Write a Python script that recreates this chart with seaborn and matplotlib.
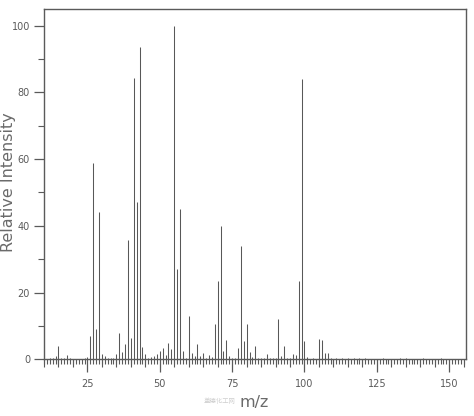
import numpy as np
import pandas as pd
import seaborn as sns
import matplotlib.pyplot as plt
from matplotlib.ticker import MultipleLocator

# m/z values and relative intensities
mz = [12, 13, 14, 15, 16, 17, 18, 19, 20, 22, 24, 25,
      26, 27, 28, 29, 30, 31, 32, 33, 34, 35,
      36, 37, 38, 39, 40, 41, 42, 43, 44, 45, 46, 47, 48, 49,
      50, 51, 52, 53, 54, 55, 56, 57, 58, 59, 60, 61, 62, 63, 64, 65, 66, 67, 68,
      69, 70, 71, 72, 73, 74, 75, 76, 77, 78, 79, 80, 81, 82, 83, 84, 85, 86, 87,
      88, 89, 90, 91, 92, 93, 94, 95, 96, 97, 98, 99, 100, 101, 103, 105, 106, 107, 108,
      109, 111, 113, 115, 117, 119, 121, 127, 133, 135, 141, 147]
intensity = [0.4, 0.3, 1.1, 3.9, 0.4, 0.5, 1.4, 0.3, 0.2, 0.2, 0.3, 0.6,
             7.0, 58.7, 9.0, 44.2, 1.5, 0.9, 0.5, 0.5, 0.5, 1.5,
             7.9, 2.2, 4.6, 35.8, 6.5, 84.2, 47.0, 93.5, 3.6, 1.5, 0.5, 0.7, 1.1, 1.6,
             2.4, 3.3, 1.2, 4.9, 3.0, 100.0, 27.0, 45.0, 2.4, 0.5, 13.0, 1.8, 0.9, 4.6, 1.0, 1.8, 0.5, 1.2, 0.7,
             10.7, 23.5, 40.0, 2.5, 5.7, 1.0, 0.3, 0.3, 3.4, 34.0, 5.4, 10.7, 2.2, 0.8, 4.1, 0.5, 0.5, 0.5, 1.7,
             0.3, 0.5, 0.3, 12.0, 1.0, 4.1, 0.5, 0.3, 1.5, 1.4, 23.5, 84.0, 5.4, 0.8, 0.4, 6.2, 5.7, 1.9, 1.9,
             0.4, 0.3, 0.3, 0.3, 0.3, 0.3, 0.3, 0.3, 0.3, 0.3, 0.3, 0.3]

x_ticks = [25, 50, 75, 100, 125, 150]
y_ticks = [0, 20, 40, 60, 80, 100]

df = pd.DataFrame({"mz": mz, "intensity": intensity})

sns.set_theme(style="ticks")
plt.rcParams['font.family'] = ['DejaVu Sans', 'Noto Sans CJK SC']
grey = "#5a5a5a"
bar_col = "#585858"

fig = plt.figure(figsize=(4.74, 4.16), dpi=100)
ax = fig.add_axes([44 / 474, 1 - 359.3 / 416, 422 / 474, 350.8 / 416])

sns.barplot(data=df, x="mz", y="intensity", native_scale=True, width=1e-4,
            color=bar_col, saturation=1, ax=ax)
# thin stems, snapped to whole pixels so they all look alike
for p in ax.patches:
    p.set_edgecolor(bar_col)
    p.set_linewidth(0.75)
    p.set_snap(True)

ax.set_xlim(10, 155.8)
ax.set_ylim(0, 105.1)

ax.set_xticks(x_ticks)
ax.set_xticklabels([str(t) for t in x_ticks])
ax.xaxis.set_minor_locator(MultipleLocator(1))
ax.set_yticks(y_ticks)
ax.set_yticklabels([str(t) for t in y_ticks])
ax.yaxis.set_minor_locator(MultipleLocator(10))

ax.tick_params(axis="x", which="major", length=9, width=0.9, color=grey,
               labelsize=7, labelcolor=grey, pad=5)
ax.tick_params(axis="x", which="minor", length=3.5, width=0.8, color=grey)
ax.tick_params(axis="y", which="major", length=7, width=0.9, color=grey,
               labelsize=7, labelcolor=grey, pad=3)
ax.tick_params(axis="y", which="minor", length=4, width=0.8, color=grey)

# medium ticks every 5 units
sec = ax.secondary_xaxis(0)
sec.set_xticks([t for t in range(10, 156, 5) if t % 25 != 0])
sec.tick_params(axis="x", length=6, width=0.8, color=grey, labelbottom=False)
sec.spines["bottom"].set_visible(False)

for s in ax.spines.values():
    s.set_color(grey)
    s.set_linewidth(1.0)

ax.set_xlabel("")
ax.set_ylabel("")
fig.text(9 / 474, 1 - 182 / 416, "Relative Intensity", fontsize=11.5,
         color="#6a6a6a", rotation=90, va="center", ha="center")

fig.text(204 / 474, 1 - 401 / 416, "盖德化工网", fontsize=4.6, color="#cfcfcf",
         va="center", ha="left")
fig.text(254 / 474, 1 - 403 / 416, "m/z", fontsize=11.5, color="#6a6a6a",
         va="center", ha="center")

fig.savefig("out.png", dpi=100)
